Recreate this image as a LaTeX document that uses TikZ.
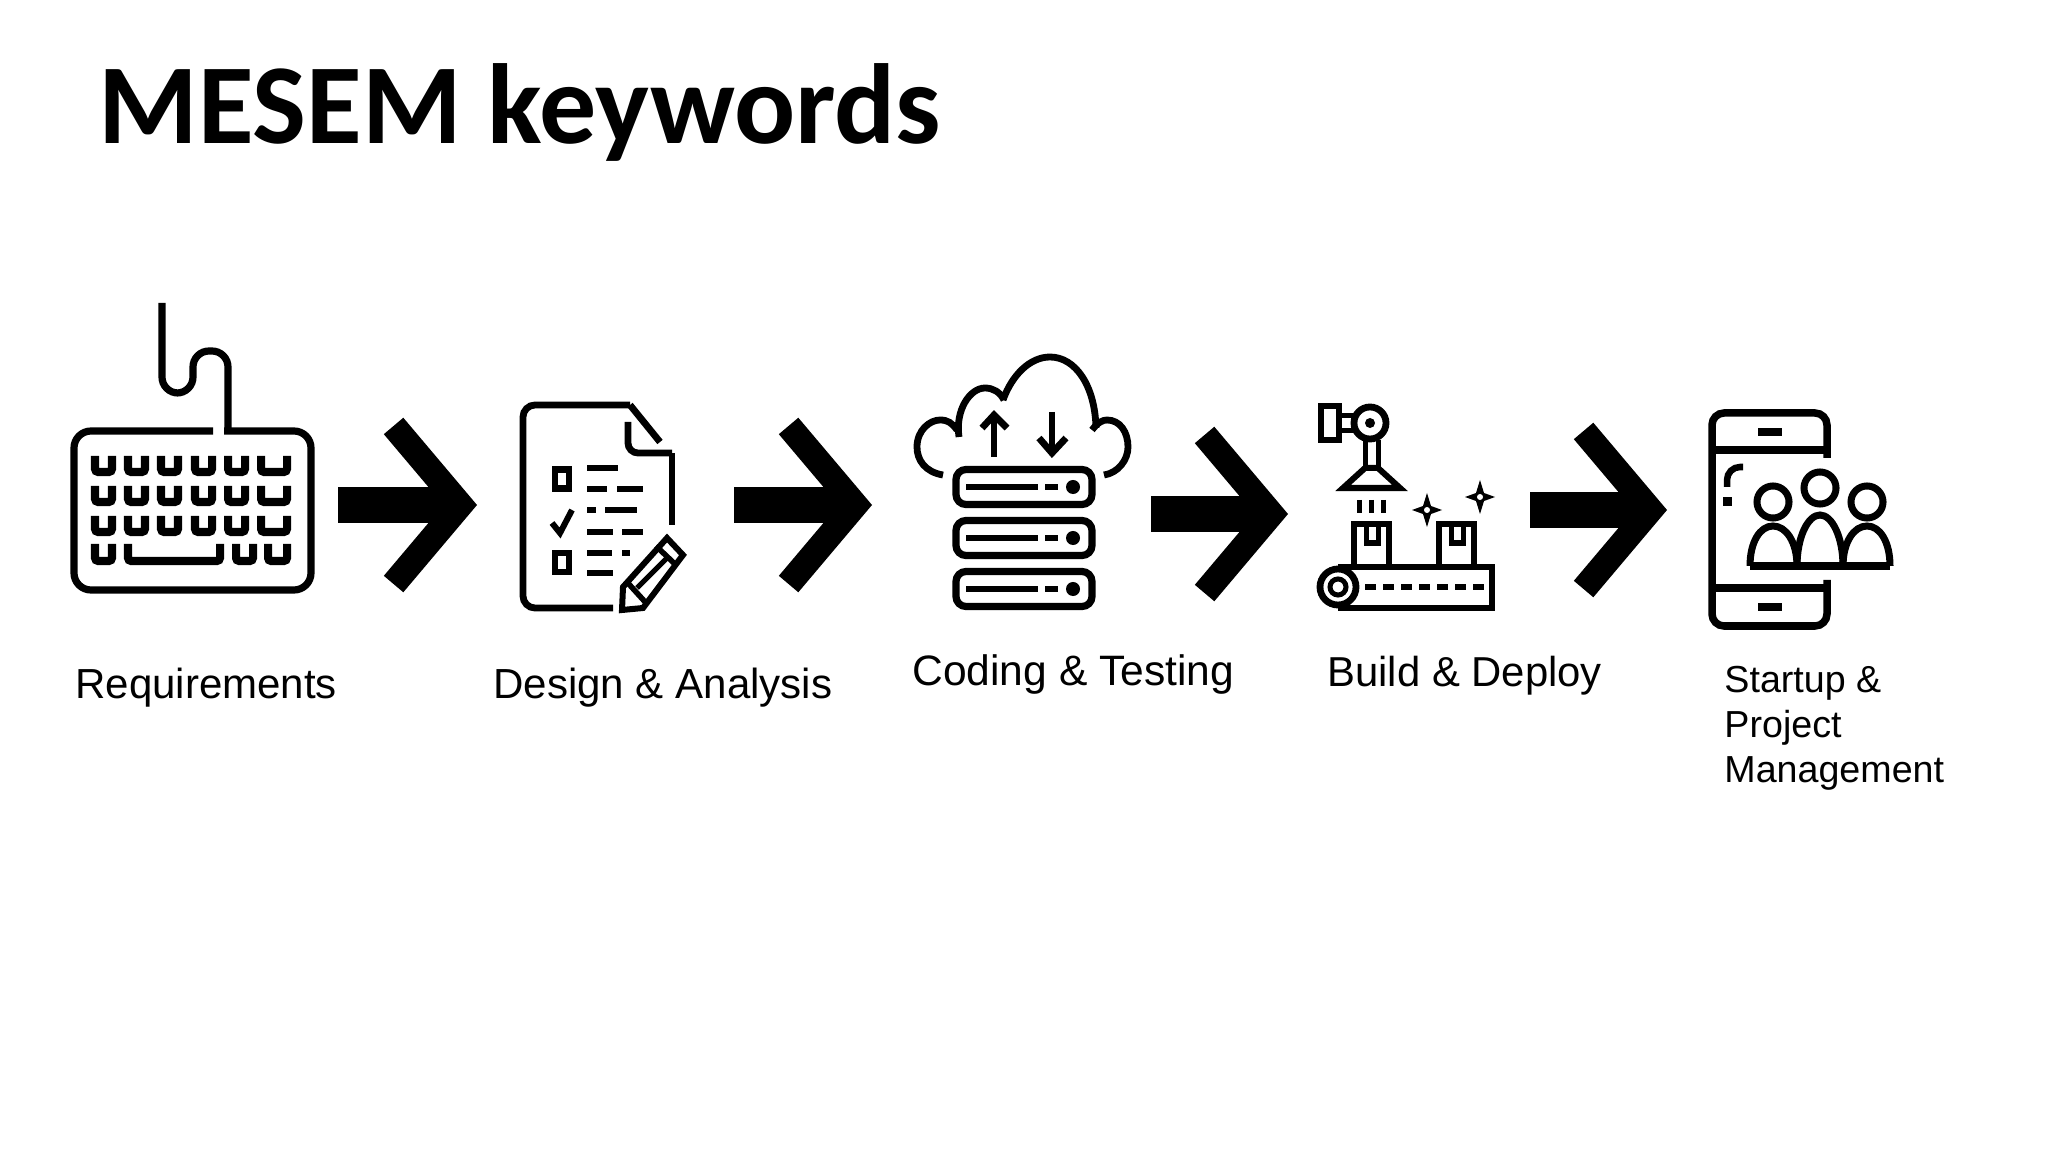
\documentclass[tikz,border=0pt]{standalone}
\usepackage{fontspec}
\setmainfont{Liberation Sans}
\newfontfamily\titlefont{Carlito}
\usetikzlibrary{positioning,arrows.meta}
\tikzset{
x=0.01cm,
y=-0.01cm,
line cap=butt,
line join=round,
icon/.style={draw=black, line width=0.068cm, fill=none},
iconbox/.style={inner sep=0pt, minimum width=#1, minimum height=0.2cm},
flowarrow/.style={line width=0.35cm, -{Straight Barb[length=0.667cm, width=1.58cm, line width=0.255cm]}},
caption/.style={inner sep=0pt, align=left, text=black, font=\fontsize{#1}{12.8}\selectfont},
heading/.style={inner sep=0pt, anchor=base west, font=\titlefont\bfseries\fontsize{32.4}{36}\selectfont},
}

\begin{document}
\begin{tikzpicture}
        \useasboundingbox (0,0) rectangle (2048,1152);
        \node[heading] (title) at (98,144) {MESEM keywords};

        \node[iconbox=2.45cm] (keyboard) at (192,593) {};
        \node[iconbox=1.65cm] (checklist) at (604,611) {};
        \node[iconbox=2.15cm] (cloud) at (1023,611) {};
        \node[iconbox=1.75cm] (factory) at (1405,611) {};
        \node[iconbox=2.35cm] (phone) at (1828,630) {};

        \node[caption=11.95, below right=0.64cm and 0.06cm of keyboard.south west] (req) {Requirements};
        \node[caption=11.96, below right=0.46cm and -0.28cm of checklist.south west] (design) {Design \& Analysis};
        \node[caption=12.1, below right=0.32cm and -0.03cm of cloud.south west] (coding) {Coding \& Testing};
        \node[caption=11.9, below right=0.34cm and 0.10cm of factory.south west] (build) {Build \& Deploy};
        \node[caption=10.7, below right=0.25cm and 0.14cm of phone.south west] (startup) {Startup \&\\Project\\Management};

        \coordinate (s1) at (338,505);
        \coordinate (e1) at (477,505);
        \coordinate (s2) at (734,505);
        \coordinate (e2) at (872,505);
        \coordinate (s3) at (1151,514);
        \coordinate (e3) at (1288,514);
        \coordinate (s4) at (1530,510);
        \coordinate (e4) at (1667,510);
        \foreach \n in {1,...,4}
                \draw[flowarrow] (s\n) -- (e\n);

        \draw[icon, line width=0.072cm, rounded corners=0.17cm] (213,431) -- (74,431) -- (74,590) -- (311,590) -- (311,431) -- (224,431);
        \draw[icon, line width=0.072cm, rounded corners=0.16cm] (162,303) -- (162,393) -- (193,393) -- (193,351) -- (228,351) -- (228,431);
        \foreach \ky in {456,486,516}
                \foreach \kx/\kw in {95/17,128/17,161/17,195/17,228/17,261/26}
                        \draw[icon, line width=0.08cm, rounded corners=0.03cm] (\kx,\ky) -- (\kx,\ky+16) -- (\kx+\kw,\ky+16) -- (\kx+\kw,\ky);
        \foreach \kx/\kw in {95/17,128/92,236/17,268/19}
                \draw[icon, line width=0.08cm, rounded corners=0.03cm] (\kx,544) -- (\kx,561) -- (\kx+\kw,561) -- (\kx+\kw,544);

        \draw[icon, rounded corners=0.12cm] (613,608) -- (523,608) -- (523,405) -- (630,405);
        \draw[icon] (630,405) -- (660,442);
        \draw[icon, rounded corners=0.1cm] (628,422) -- (628,453) -- (672,453);
        \draw[icon] (672,453) -- (672,525);
        \draw[icon] (555,469.5) rectangle (569,488.5);
        \draw[icon] (555,553) rectangle (569,572);
        \draw[icon, line width=0.06cm] (552,523) -- (560,533) -- (572,510);
        \foreach \ly/\la/\lb in {468/587/618,489/587/607,489/617/643,510/587/596,510/605/637,532/587/613,532/622/643,553/587/612,553/622/630,573/587/613}
                \draw[icon] (\la,\ly) -- (\lb,\ly);
        \draw[icon, line width=0.06cm] (623,587) -- (667,538) -- (683,555) -- (643,608) -- (622,610) -- cycle;
        \draw[icon, line width=0.055cm] (656,546) -- (677,566);
        \draw[icon, line width=0.05cm] (637,588) -- (667,558);
        \draw[icon, line width=0.055cm] (627,582) -- (647,604);

        \draw[icon] (943,475) .. controls (925,472) and (917,460) .. (917,447) .. controls (917,430) and (930,420) .. (940,420) .. controls (948,420) and (952,423) .. (957,430);
        \draw[icon] (959,437) .. controls (955,410) and (970,388) .. (985,388) .. controls (993,388) and (1000,392) .. (1004,400);
        \draw[icon] (1003,400) .. controls (1012,375) and (1030,357) .. (1050,357) .. controls (1075,357) and (1095,385) .. (1096,428);
        \draw[icon] (1092,430) .. controls (1098,422) and (1103,420) .. (1107,420) .. controls (1120,420) and (1128,432) .. (1128,447) .. controls (1128,460) and (1118,473) .. (1104,475);
        \draw[icon] (994,457) -- (994,414);
        \draw[icon] (982,428) -- (994,415) -- (1007,428);
        \draw[icon] (1052,412) -- (1052,454);
        \draw[icon] (1039,438) -- (1052,453) -- (1066,438);
        \foreach \sy in {487,538,589}
        {
                \draw[icon, line width=0.072cm, rounded corners=0.1cm] (956,\sy-17.5) rectangle (1092,\sy+17.5);
                \draw[icon] (966,\sy) -- (1038,\sy);
                \draw[icon] (1045,\sy) -- (1058,\sy);
                \fill (1073,\sy) circle[radius=0.07cm];
        }

        \draw[icon] (1321,406) rectangle (1339,440);
        \draw[icon, line width=0.05cm] (1342,416) -- (1356,416);
        \draw[icon, line width=0.05cm] (1342,431) -- (1356,431);
        \draw[icon] (1370,423) circle[radius=0.16cm];
        \fill (1370,423) circle[radius=0.05cm];
        \draw[icon, line width=0.05cm] (1365,440) -- (1365,467);
        \draw[icon, line width=0.05cm] (1378,440) -- (1378,467);
        \draw[icon, line width=0.06cm] (1365,468) -- (1343,488) -- (1400,488) -- (1378,468) -- cycle;
        \foreach \tx in {1359,1371,1383}
                \draw[icon, line width=0.05cm] (\tx,500) -- (\tx,513);
        \foreach \bx in {1354,1439}
        {
                \draw[icon] (\bx,565) -- (\bx,524) -- (\bx+35,524) -- (\bx+35,565);
                \draw[icon, line width=0.05cm] (\bx+12,524) -- (\bx+12,543) -- (\bx+24,543) -- (\bx+24,524);
        }
        \draw[icon] (1338,567) -- (1492,567) -- (1492,608) -- (1338,608);
        \draw[icon] (1338,587) circle[radius=0.18cm];
        \draw[icon, line width=0.05cm] (1338,587) circle[radius=0.08cm];
        \draw[icon, dash pattern=on 0.11cm off 0.07cm] (1365,587) -- (1484,587);
        \foreach \px/\py in {1427/510,1480/497}
        {
                \fill (\px,\py-17) -- (\px+4,\py-4) -- (\px+15,\py) -- (\px+4,\py+4) -- (\px,\py+17) -- (\px-4,\py+4) -- (\px-15,\py) -- (\px-4,\py-4) -- cycle;
                \fill[white] (\px,\py) circle[radius=0.03cm];
        }

        \draw[icon, line width=0.075cm, rounded corners=0.12cm] (1827,458) -- (1827,413) -- (1712,413) -- (1712,626) -- (1827,626) -- (1827,580);
        \draw[icon, line width=0.075cm] (1712,450) -- (1827,450);
        \draw[icon, line width=0.075cm] (1712,588) -- (1827,588);
        \draw[icon, line width=0.08cm] (1758,432) -- (1782,432);
        \draw[icon, line width=0.08cm] (1758,607) -- (1782,607);
        \draw[icon, line width=0.065cm, rounded corners=0.13cm] (1743,467) -- (1727,467) -- (1727,487);
        \fill (1723,497) rectangle (1732,506);
        \foreach \hx/\hy in {1773/502,1820/488,1867/502}
                \draw[icon, line width=0.07cm] (\hx,\hy) circle[radius=0.16cm];
        \draw[icon, line width=0.07cm] (1750,566) .. controls (1750,542) and (1760,526) .. (1773,526) .. controls (1786,526) and (1797,542) .. (1797,566);
        \draw[icon, line width=0.07cm] (1797,566) .. controls (1797,537) and (1808,515) .. (1820,515) .. controls (1832,515) and (1843,537) .. (1843,566);
        \draw[icon, line width=0.07cm] (1843,566) .. controls (1843,542) and (1854,526) .. (1867,526) .. controls (1880,526) and (1890,542) .. (1890,566);
        \draw[icon, line width=0.07cm] (1750,566) -- (1890,566);
\end{tikzpicture}
\end{document}
